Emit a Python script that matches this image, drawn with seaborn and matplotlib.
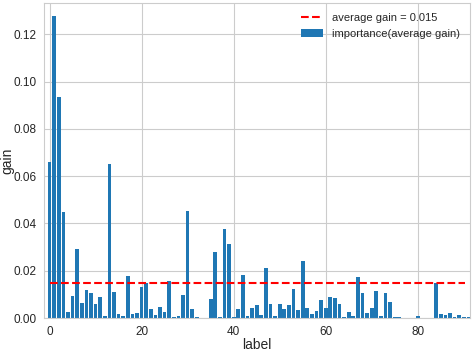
import numpy as np
import pandas as pd
import matplotlib
matplotlib.use("Agg")
import matplotlib.pyplot as plt
import seaborn as sns

labels = list(range(92))
gain = [
    0.0660, 0.1277, 0.0934, 0.0450, 0.0024, 0.0093, 0.0290, 0.0065, 0.0118, 0.0107,
    0.0058, 0.0090, 0.0010, 0.0650, 0.0111, 0.0017, 0.0010, 0.0179, 0.0017, 0.0020,
    0.0130, 0.0146, 0.0037, 0.0013, 0.0045, 0.0027, 0.0158, 0.0003, 0.0008, 0.0097,
    0.0452, 0.0039, 0.0006, 0.0000, 0.0000, 0.0079, 0.0279, 0.0006, 0.0376, 0.0313,
    0.0004, 0.0040, 0.0180, 0.0007, 0.0044, 0.0054, 0.0013, 0.0210, 0.0058, 0.0010,
    0.0058, 0.0037, 0.0054, 0.0121, 0.0032, 0.0240, 0.0044, 0.0017, 0.0028, 0.0076,
    0.0041, 0.0090, 0.0083, 0.0061, 0.0003, 0.0024, 0.0010, 0.0172, 0.0107, 0.0021,
    0.0044, 0.0115, 0.0007, 0.0104, 0.0068, 0.0004, 0.0004, 0.0000, 0.0000, 0.0000,
    0.0007, 0.0000, 0.0000, 0.0000, 0.0146, 0.0017, 0.0014, 0.0020, 0.0003, 0.0013,
    0.0004, 0.0006,
]
avg_gain = 0.015
line_x = [0, 90.3]

sns.set_style("whitegrid")
plt.rcParams['font.family'] = ['Liberation Sans', 'DejaVu Sans']

df = pd.DataFrame({"label": labels, "gain": gain})

fig = plt.figure(figsize=(4.74, 3.51), dpi=100)
ax = fig.add_axes([0.093, 0.094, 0.899, 0.897])

ax.plot(line_x, [avg_gain, avg_gain], 'r--', lw=1.5,
        label="average gain = %.3f" % avg_gain, zorder=3)
ax.bar(df["label"], df["gain"], width=0.8, color="#1f77b4",
       edgecolor="none", linewidth=0,
       label="importance(average gain)", zorder=2)

ax.set_xlim(-1.2, 91.4)
ax.set_ylim(0, 0.1332)
ax.set_xticks([0, 20, 40, 60, 80])
ax.set_yticks([0, 0.02, 0.04, 0.06, 0.08, 0.10, 0.12])
ax.set_yticklabels(["0.00", "0.02", "0.04", "0.06", "0.08", "0.10", "0.12"])
ax.tick_params(labelsize=8.5, colors="#262626", pad=2)
ax.set_xlabel("label", fontsize=10, color="#262626", labelpad=0)
ax.set_ylabel("gain", fontsize=10, color="#262626")
ax.yaxis.set_label_coords(-0.07, 0.5)
ax.legend(loc="upper right", fontsize=8, frameon=False)

fig.savefig("out.png", dpi=100)
